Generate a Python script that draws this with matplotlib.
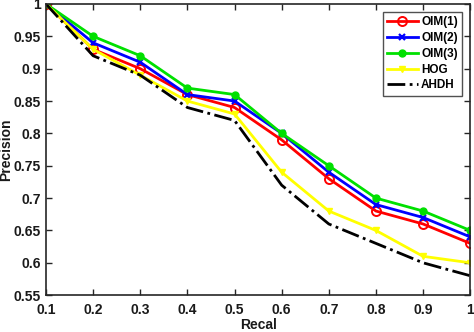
import numpy as np
import matplotlib
matplotlib.use("Agg")
import matplotlib.pyplot as plt

# recall levels and precision values
recall = [0.1, 0.2, 0.3, 0.4, 0.5, 0.6, 0.7, 0.8, 0.9, 1.0]
oim1 = [1.00, 0.93, 0.90, 0.86, 0.84, 0.79, 0.73, 0.68, 0.66, 0.63]
oim2 = [1.00, 0.94, 0.91, 0.86, 0.85, 0.80, 0.74, 0.69, 0.67, 0.64]
oim3 = [1.00, 0.95, 0.92, 0.87, 0.86, 0.80, 0.75, 0.70, 0.68, 0.65]
hog = [1.00, 0.93, 0.89, 0.85, 0.83, 0.74, 0.68, 0.65, 0.61, 0.60]
ahdh = [1.00, 0.92, 0.89, 0.84, 0.82, 0.72, 0.66, 0.63, 0.60, 0.58]

xticks = [0.1, 0.2, 0.3, 0.4, 0.5, 0.6, 0.7, 0.8, 0.9, 1.0]
xtick_labels = ["0.1", "0.2", "0.3", "0.4", "0.5", "0.6", "0.7", "0.8", "0.9", "1"]
yticks = [0.55, 0.6, 0.65, 0.7, 0.75, 0.8, 0.85, 0.9, 0.95, 1.0]
ytick_labels = ["0.55", "0.6", "0.65", "0.7", "0.75", "0.8", "0.85", "0.9", "0.95", "1"]

plt.rcParams['font.family'] = ['Liberation Sans', 'DejaVu Sans']
plt.rcParams['font.weight'] = 'bold'

fig = plt.figure(figsize=(4.74, 3.32), dpi=100)
ax = fig.add_axes([0.097, 0.111, 0.895, 0.877])

ax.plot(recall, oim1, color='red', lw=2, marker='o', ms=6.5, mfc='none', mew=1.4, label='OIM(1)')
ax.plot(recall, oim2, color='blue', lw=2, marker='x', ms=4.5, mew=1.6, label='OIM(2)')
ax.plot(recall, oim3, color='#00e000', lw=2, marker='o', ms=5, label='OIM(3)')
ax.plot(recall, hog, color='#ffff00', lw=2, marker='v', ms=4.5, label='HOG')
ax.plot(recall, ahdh, color='black', lw=2, linestyle='-.', label='AHDH')

ax.set_xlim(0.1, 1.0)
ax.set_ylim(0.55, 1.0)
ax.set_xticks(xticks)
ax.set_xticklabels(xtick_labels)
ax.set_yticks(yticks)
ax.set_yticklabels(ytick_labels)
ax.tick_params(direction='in', labelsize=10, width=1, length=4, top=True, right=True,
               color='#262626', labelcolor='#1a1a1a')
ax.tick_params(axis='x', pad=6)
for s in ax.spines.values():
    s.set_linewidth(1.2)
    s.set_color('#262626')

ax.set_xlabel("Recal", fontsize=10, fontweight='bold', color='#1a1a1a')
ax.xaxis.set_label_coords(0.5, -0.078)
ax.set_ylabel("Precision", fontsize=10, fontweight='bold', color='#1a1a1a')
ax.yaxis.set_label_coords(-0.078, 0.5)

leg = ax.legend(loc='upper right', fontsize=8.5, frameon=True, fancybox=False,
                edgecolor='#262626', handlelength=2.6, handletextpad=0.3,
                labelspacing=0.32, borderpad=0.35, borderaxespad=0.7)
leg.get_frame().set_linewidth(1.0)

fig.savefig("out.png", dpi=100)
